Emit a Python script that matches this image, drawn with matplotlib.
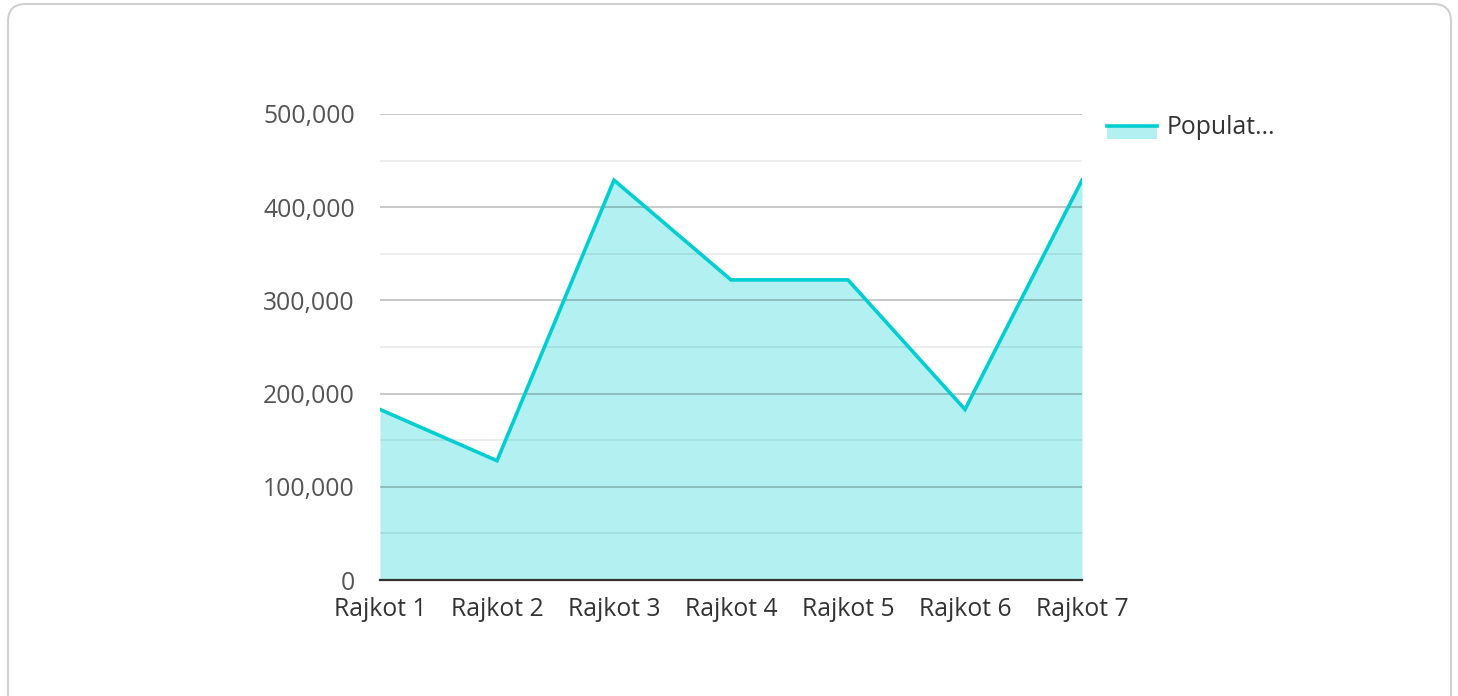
import matplotlib.pyplot as plt
import matplotlib.ticker as mticker
from matplotlib.patches import FancyBboxPatch, Rectangle
from matplotlib.lines import Line2D

categories = ['Rajkot 1', 'Rajkot 2', 'Rajkot 3', 'Rajkot 4', 'Rajkot 5', 'Rajkot 6', 'Rajkot 7']
population = [183000, 128000, 429000, 322000, 322000, 183000, 429000]
series_name = 'Populat...'

line_col = '#00CED1'
W, H = 1458, 696
fs = 17.8

plt.rcParams['font.family'] = ['Open Sans', 'DejaVu Sans']

fig = plt.figure(figsize=(W / 100, H / 100), dpi=100)

# card border
card = FancyBboxPatch((8 / W, -20 / H), 1443 / W, (H - 4 + 20) / H,
                      boxstyle='round,pad=0,rounding_size=0.012',
                      transform=fig.transFigure, fill=False,
                      edgecolor='#d0d0d0', linewidth=1.5, mutation_aspect=W / H)
fig.add_artist(card)

ax = fig.add_axes([380 / W, 1 - 580 / H, (1082 - 380) / W, (580 - 114) / H])
x = list(range(len(categories)))
ax.fill_between(x, population, 0, color=line_col, alpha=0.3, linewidth=0, zorder=1)
ax.plot(x, population, color=line_col, linewidth=2.6, zorder=3, solid_joinstyle='miter')

ax.set_xlim(0, len(categories) - 1)
ax.set_ylim(0, 500000)
ax.set_xticks(x)
ax.set_xticklabels(categories)
ax.yaxis.set_major_locator(mticker.MultipleLocator(100000))
ax.yaxis.set_minor_locator(mticker.MultipleLocator(50000))
ax.yaxis.set_major_formatter(mticker.FuncFormatter(lambda v, p: f'{int(v):,}'))

ax.grid(axis='y', which='major', color='black', alpha=0.23, linewidth=1.3, zorder=2)
ax.grid(axis='y', which='minor', color='black', alpha=0.08, linewidth=1.3, zorder=2)
ax.set_axisbelow(False)

for s in ['top', 'right', 'left']:
    ax.spines[s].set_visible(False)
ax.spines['bottom'].set_color('#333333')
ax.spines['bottom'].set_linewidth(1.6)
ax.spines['bottom'].set_zorder(4)

ax.tick_params(axis='both', which='both', length=0)
ax.tick_params(axis='y', labelsize=fs, labelcolor='#555555', pad=18)
ax.tick_params(axis='x', labelsize=fs, labelcolor='#333333', pad=12)

# legend
fig.add_artist(Rectangle((1107 / W, 1 - 139 / H), 50 / W, 13 / H,
                         transform=fig.transFigure, facecolor=line_col,
                         alpha=0.3, linewidth=0))
fig.add_artist(Line2D([1107 / W, 1157 / W], [1 - 126 / H, 1 - 126 / H],
                      transform=fig.transFigure, color=line_col, linewidth=2.6))
fig.text(1167 / W, 1 - 127 / H, series_name, fontsize=fs, color='#333333',
         va='center', ha='left')

fig.savefig('out.png', dpi=100)
